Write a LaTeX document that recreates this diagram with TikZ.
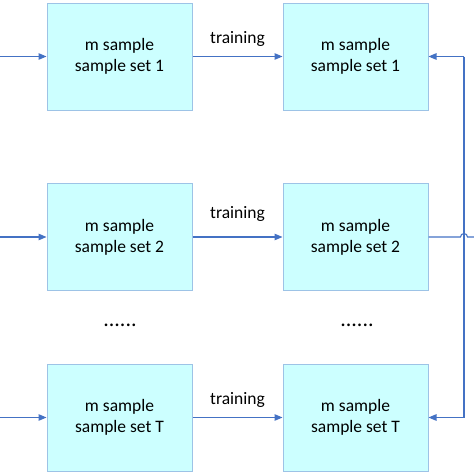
\documentclass[tikz,border=0pt]{standalone}
\usepackage{fontspec}
\setmainfont{Carlito}
\usetikzlibrary{arrows.meta,positioning}
\definecolor{boxfill}{HTML}{CCFFFF}
\definecolor{boxline}{HTML}{9DC3E6}
\definecolor{flowblue}{HTML}{4472C4}
\tikzset{
	sampbox/.style={draw=boxline, fill=boxfill, line width=1pt, minimum width=145pt, minimum height=107pt, align=center, inner sep=0pt, font=\fontsize{17.5}{21}\selectfont},
	flowline/.style={draw=flowblue, line width=1.1pt},
	flowarrow/.style={flowline, -{Triangle[length=8pt,width=6.5pt]}},
	trainlbl/.style={font=\fontsize{17.5}{21}\selectfont, midway},
	moredots/.style={font=\fontsize{22}{24}\selectfont}
}

\begin{document}
\begin{tikzpicture}[x=1pt,y=-1pt]
		%%%%% START %%%%%
		\useasboundingbox (0,0) rectangle (474,474);
		
		\node[sampbox] (left1) at (119.5,56.5) {m sample\\sample set 1};
		\node[sampbox] (right1) at (355.5,56.5) {m sample\\sample set 1};
		\node[sampbox] (left2) at (119.5,237) {m sample\\sample set 2};
		\node[sampbox] (right2) at (355.5,237) {m sample\\sample set 2};
		\node[sampbox] (leftT) at (119.5,417.5) {m sample\\sample set T};
		\node[sampbox] (rightT) at (355.5,417.5) {m sample\\sample set T};
		
		\node[moredots] (dotsL) at (120,325) {......};
		\node[moredots] (dotsR) at (357,325) {......};
		
		\coordinate (in1) at (0,56.5);
		\coordinate (in2) at (0,237);
		\coordinate (inT) at (0,417.5);
		\draw[flowarrow] (in1) -- (left1);
		\draw[flowarrow] (in2) -- (left2);
		\draw[flowarrow] (inT) -- (leftT);
		
		\draw[flowarrow] (left1) -- node[trainlbl, yshift=17.5pt] {training} (right1);
		\draw[flowarrow] (left2) -- node[trainlbl, yshift=23pt] {training} (right2);
		\draw[flowarrow] (leftT) -- node[trainlbl, yshift=18pt] {training} (rightT);
		
		\coordinate (back1) at (464,56.5);
		\coordinate (backT) at (464,417.5);
		\draw[flowline] (back1) -- (backT);
		\draw[flowarrow] (back1) -- (right1);
		\draw[flowarrow] (backT) -- (rightT);
		
		\coordinate (out2) at (474,237);
		\draw[flowline] (right2) -- (460.5,237) arc (180:360:3.5) -- (out2);
		%%%%% END %%%%%
\end{tikzpicture}
\end{document}
